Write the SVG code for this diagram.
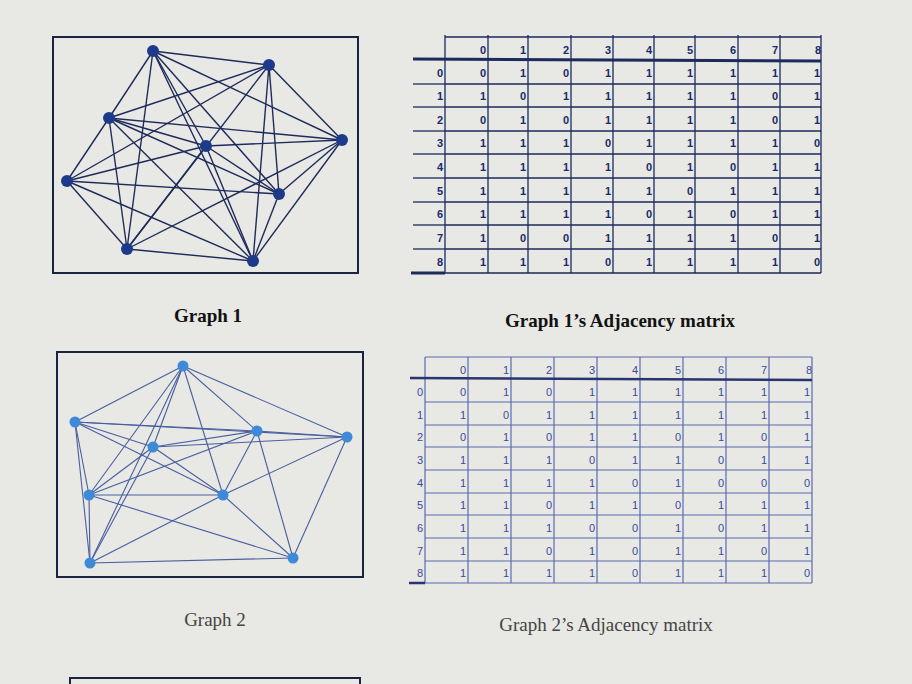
<svg xmlns="http://www.w3.org/2000/svg" width="912" height="684" viewBox="0 0 912 684">
<style>
.box{fill:none;stroke:#1a2340;stroke-width:2}
.e1{stroke:#1f2b5a;stroke-width:1.4}
.e2{stroke:#4a5ea0;stroke-width:1.1}
.n1{fill:#1d3a8a}
.n2{fill:#3f8ad8}
.cap{font-family:"Liberation Serif",serif;font-size:19px;fill:#222}
.m{font-family:"Liberation Sans Narrow","Liberation Sans",sans-serif;font-size:11px;font-weight:bold;fill:#1a2a6a;text-anchor:end}
.m2{font-family:"Liberation Sans Narrow","Liberation Sans",sans-serif;font-size:11px;fill:#3a4a9a;text-anchor:end}
.g{stroke:#1d2a5e;stroke-width:1.3}
.gt{stroke:#1d2a5e;stroke-width:3}
.h{stroke:#5a6ab0;stroke-width:1.2}
.ht{stroke:#2a3570;stroke-width:2.5}
</style>
<rect width="912" height="684" fill="#e8e8e4"/>
<g id="graph1">
<rect class="box" x="53" y="37" width="305" height="236" fill="#ecece8"/>
<g id="connectors1" class="e1">
<line x1="153" y1="51" x2="269" y2="65"/><line x1="153" y1="51" x2="109" y2="118"/><line x1="153" y1="51" x2="127" y2="249"/><line x1="153" y1="51" x2="206" y2="146"/><line x1="153" y1="51" x2="342" y2="140"/><line x1="153" y1="51" x2="279" y2="194"/><line x1="153" y1="51" x2="253" y2="261"/>
<line x1="269" y1="65" x2="109" y2="118"/><line x1="269" y1="65" x2="67" y2="181"/><line x1="269" y1="65" x2="127" y2="249"/><line x1="269" y1="65" x2="253" y2="261"/><line x1="269" y1="65" x2="279" y2="194"/><line x1="269" y1="65" x2="342" y2="140"/>
<line x1="109" y1="118" x2="206" y2="146"/><line x1="109" y1="118" x2="342" y2="140"/><line x1="109" y1="118" x2="67" y2="181"/><line x1="109" y1="118" x2="127" y2="249"/><line x1="109" y1="118" x2="253" y2="261"/><line x1="109" y1="118" x2="279" y2="194"/>
<line x1="206" y1="146" x2="342" y2="140"/><line x1="206" y1="146" x2="67" y2="181"/><line x1="206" y1="146" x2="127" y2="249"/><line x1="206" y1="146" x2="253" y2="261"/><line x1="206" y1="146" x2="279" y2="194"/>
<line x1="342" y1="140" x2="279" y2="194"/><line x1="342" y1="140" x2="127" y2="249"/><line x1="342" y1="140" x2="253" y2="261"/>
<line x1="67" y1="181" x2="279" y2="194"/><line x1="67" y1="181" x2="127" y2="249"/><line x1="67" y1="181" x2="253" y2="261"/>
<line x1="127" y1="249" x2="253" y2="261"/><line x1="253" y1="261" x2="279" y2="194"/>
</g>
<g id="nodes1" class="n1">
<circle cx="153" cy="51" r="6"/><circle cx="269" cy="65" r="6"/><circle cx="109" cy="118" r="6"/><circle cx="206" cy="146" r="6"/><circle cx="342" cy="140" r="6"/><circle cx="67" cy="181" r="6"/><circle cx="279" cy="194" r="6"/><circle cx="127" cy="249" r="6"/><circle cx="253" cy="261" r="6"/>
</g>
</g>
<g id="graph2">
<rect class="box" x="57" y="352" width="306" height="225" fill="#ecece8"/>
<g id="connectors2" class="e2">
<line x1="183" y1="366" x2="75" y2="422"/><line x1="183" y1="366" x2="347" y2="437"/><line x1="183" y1="366" x2="257" y2="431"/><line x1="183" y1="366" x2="223" y2="495"/><line x1="183" y1="366" x2="153" y2="447"/><line x1="183" y1="366" x2="89" y2="495"/><line x1="183" y1="366" x2="90" y2="563"/>
<line x1="75" y1="422" x2="257" y2="431"/><line x1="75" y1="422" x2="347" y2="437"/><line x1="75" y1="422" x2="153" y2="447"/><line x1="75" y1="422" x2="223" y2="495"/><line x1="75" y1="422" x2="89" y2="495"/><line x1="75" y1="422" x2="90" y2="563"/>
<line x1="257" y1="431" x2="347" y2="437"/><line x1="257" y1="431" x2="153" y2="447"/><line x1="257" y1="431" x2="89" y2="495"/><line x1="257" y1="431" x2="223" y2="495"/><line x1="257" y1="431" x2="293" y2="558"/>
<line x1="347" y1="437" x2="153" y2="447"/><line x1="347" y1="437" x2="223" y2="495"/><line x1="347" y1="437" x2="293" y2="558"/>
<line x1="153" y1="447" x2="89" y2="495"/><line x1="153" y1="447" x2="90" y2="563"/><line x1="153" y1="447" x2="223" y2="495"/>
<line x1="89" y1="495" x2="223" y2="495"/><line x1="89" y1="495" x2="293" y2="558"/><line x1="89" y1="495" x2="90" y2="563"/>
<line x1="223" y1="495" x2="90" y2="563"/><line x1="223" y1="495" x2="293" y2="558"/><line x1="90" y1="563" x2="293" y2="558"/>
</g>
<g id="nodes2" class="n2">
<circle cx="183" cy="366" r="5.5"/><circle cx="75" cy="422" r="5.5"/><circle cx="257" cy="431" r="5.5"/><circle cx="347" cy="437" r="5.5"/><circle cx="153" cy="447" r="5.5"/><circle cx="89" cy="495" r="5.5"/><circle cx="223" cy="495" r="5.5"/><circle cx="90" cy="563" r="5.5"/><circle cx="293" cy="558" r="5.5"/>
</g>
</g>
<g id="matrix1">
<g class="g">
<line x1="445" y1="37" x2="821" y2="37"/>
<line x1="445" y1="84" x2="821" y2="84"/><line x1="445" y1="107" x2="821" y2="107"/><line x1="445" y1="131" x2="821" y2="131"/><line x1="445" y1="154" x2="821" y2="154"/><line x1="445" y1="178" x2="821" y2="178"/><line x1="445" y1="202" x2="821" y2="202"/><line x1="445" y1="225" x2="821" y2="225"/><line x1="445" y1="249" x2="821" y2="249"/>
<line x1="445" y1="35" x2="445" y2="273"/><line x1="488" y1="35" x2="488" y2="273"/><line x1="528" y1="35" x2="528" y2="273"/><line x1="571" y1="35" x2="571" y2="273"/><line x1="613" y1="35" x2="613" y2="273"/><line x1="654" y1="35" x2="654" y2="273"/><line x1="695" y1="35" x2="695" y2="273"/><line x1="738" y1="35" x2="738" y2="273"/><line x1="780" y1="35" x2="780" y2="273"/><line x1="821" y1="35" x2="821" y2="273"/>
<line x1="413" y1="84" x2="445" y2="84"/><line x1="413" y1="107" x2="445" y2="107"/><line x1="413" y1="131" x2="445" y2="131"/><line x1="413" y1="154" x2="445" y2="154"/><line x1="413" y1="178" x2="445" y2="178"/><line x1="413" y1="202" x2="445" y2="202"/><line x1="413" y1="225" x2="445" y2="225"/><line x1="413" y1="249" x2="445" y2="249"/>
</g>
<line class="gt" x1="413" y1="59" x2="821" y2="61"/><line class="gt" x1="411" y1="273" x2="445" y2="273"/><line class="g" x1="445" y1="273" x2="821" y2="273"/>
<g class="m">
<text x="486" y="54">0</text><text x="526" y="54">1</text><text x="569" y="54">2</text><text x="611" y="54">3</text><text x="652" y="54">4</text><text x="693" y="54">5</text><text x="736" y="54">6</text><text x="778" y="54">7</text><text x="821" y="54">8</text>
<text x="443" y="77">0</text><text x="443" y="100">1</text><text x="443" y="124">2</text><text x="443" y="147">3</text><text x="443" y="171">4</text><text x="443" y="195">5</text><text x="443" y="218">6</text><text x="443" y="242">7</text><text x="443" y="266">8</text>
<text x="486" y="77">0</text><text x="526" y="77">1</text><text x="569" y="77">0</text><text x="611" y="77">1</text><text x="652" y="77">1</text><text x="693" y="77">1</text><text x="736" y="77">1</text><text x="778" y="77">1</text><text x="820" y="77">1</text>
<text x="486" y="100">1</text><text x="526" y="100">0</text><text x="569" y="100">1</text><text x="611" y="100">1</text><text x="652" y="100">1</text><text x="693" y="100">1</text><text x="736" y="100">1</text><text x="778" y="100">0</text><text x="820" y="100">1</text>
<text x="486" y="124">0</text><text x="526" y="124">1</text><text x="569" y="124">0</text><text x="611" y="124">1</text><text x="652" y="124">1</text><text x="693" y="124">1</text><text x="736" y="124">1</text><text x="778" y="124">0</text><text x="820" y="124">1</text>
<text x="486" y="147">1</text><text x="526" y="147">1</text><text x="569" y="147">1</text><text x="611" y="147">0</text><text x="652" y="147">1</text><text x="693" y="147">1</text><text x="736" y="147">1</text><text x="778" y="147">1</text><text x="820" y="147">0</text>
<text x="486" y="171">1</text><text x="526" y="171">1</text><text x="569" y="171">1</text><text x="611" y="171">1</text><text x="652" y="171">0</text><text x="693" y="171">1</text><text x="736" y="171">0</text><text x="778" y="171">1</text><text x="820" y="171">1</text>
<text x="486" y="195">1</text><text x="526" y="195">1</text><text x="569" y="195">1</text><text x="611" y="195">1</text><text x="652" y="195">1</text><text x="693" y="195">0</text><text x="736" y="195">1</text><text x="778" y="195">1</text><text x="820" y="195">1</text>
<text x="486" y="218">1</text><text x="526" y="218">1</text><text x="569" y="218">1</text><text x="611" y="218">1</text><text x="652" y="218">0</text><text x="693" y="218">1</text><text x="736" y="218">0</text><text x="778" y="218">1</text><text x="820" y="218">1</text>
<text x="486" y="242">1</text><text x="526" y="242">0</text><text x="569" y="242">0</text><text x="611" y="242">1</text><text x="652" y="242">1</text><text x="693" y="242">1</text><text x="736" y="242">1</text><text x="778" y="242">0</text><text x="820" y="242">1</text>
<text x="486" y="266">1</text><text x="526" y="266">1</text><text x="569" y="266">1</text><text x="611" y="266">0</text><text x="652" y="266">1</text><text x="693" y="266">1</text><text x="736" y="266">1</text><text x="778" y="266">1</text><text x="820" y="266">0</text>
</g>
</g>
<g id="matrix2">
<g class="h">
<line x1="425" y1="357" x2="812" y2="357"/>
<line x1="425" y1="402" x2="812" y2="402"/><line x1="425" y1="425" x2="812" y2="425"/><line x1="425" y1="447" x2="812" y2="447"/><line x1="425" y1="470" x2="812" y2="470"/><line x1="425" y1="493" x2="812" y2="493"/><line x1="425" y1="515" x2="812" y2="515"/><line x1="425" y1="538" x2="812" y2="538"/><line x1="425" y1="561" x2="812" y2="561"/><line x1="425" y1="583" x2="812" y2="583"/>
<line x1="425" y1="357" x2="425" y2="583"/><line x1="468" y1="357" x2="468" y2="583"/><line x1="511" y1="357" x2="511" y2="583"/><line x1="554" y1="357" x2="554" y2="583"/><line x1="597" y1="357" x2="597" y2="583"/><line x1="640" y1="357" x2="640" y2="583"/><line x1="683" y1="357" x2="683" y2="583"/><line x1="726" y1="357" x2="726" y2="583"/><line x1="769" y1="357" x2="769" y2="583"/><line x1="812" y1="357" x2="812" y2="583"/>
</g>
<line class="ht" x1="410" y1="378" x2="812" y2="380"/><line class="ht" x1="409" y1="583" x2="425" y2="583"/>
<g class="m2">
<text x="466" y="374">0</text><text x="509" y="374">1</text><text x="552" y="374">2</text><text x="595" y="374">3</text><text x="638" y="374">4</text><text x="681" y="374">5</text><text x="724" y="374">6</text><text x="767" y="374">7</text><text x="812" y="374">8</text>
<text x="423" y="396">0</text><text x="423" y="419">1</text><text x="423" y="441">2</text><text x="423" y="464">3</text><text x="423" y="487">4</text><text x="423" y="509">5</text><text x="423" y="532">6</text><text x="423" y="555">7</text><text x="423" y="577">8</text>
<text x="466" y="396">0</text><text x="509" y="396">1</text><text x="552" y="396">0</text><text x="595" y="396">1</text><text x="638" y="396">1</text><text x="681" y="396">1</text><text x="724" y="396">1</text><text x="767" y="396">1</text><text x="810" y="396">1</text>
<text x="466" y="419">1</text><text x="509" y="419">0</text><text x="552" y="419">1</text><text x="595" y="419">1</text><text x="638" y="419">1</text><text x="681" y="419">1</text><text x="724" y="419">1</text><text x="767" y="419">1</text><text x="810" y="419">1</text>
<text x="466" y="441">0</text><text x="509" y="441">1</text><text x="552" y="441">0</text><text x="595" y="441">1</text><text x="638" y="441">1</text><text x="681" y="441">0</text><text x="724" y="441">1</text><text x="767" y="441">0</text><text x="810" y="441">1</text>
<text x="466" y="464">1</text><text x="509" y="464">1</text><text x="552" y="464">1</text><text x="595" y="464">0</text><text x="638" y="464">1</text><text x="681" y="464">1</text><text x="724" y="464">0</text><text x="767" y="464">1</text><text x="810" y="464">1</text>
<text x="466" y="487">1</text><text x="509" y="487">1</text><text x="552" y="487">1</text><text x="595" y="487">1</text><text x="638" y="487">0</text><text x="681" y="487">1</text><text x="724" y="487">0</text><text x="767" y="487">0</text><text x="810" y="487">0</text>
<text x="466" y="509">1</text><text x="509" y="509">1</text><text x="552" y="509">0</text><text x="595" y="509">1</text><text x="638" y="509">1</text><text x="681" y="509">0</text><text x="724" y="509">1</text><text x="767" y="509">1</text><text x="810" y="509">1</text>
<text x="466" y="532">1</text><text x="509" y="532">1</text><text x="552" y="532">1</text><text x="595" y="532">0</text><text x="638" y="532">0</text><text x="681" y="532">1</text><text x="724" y="532">0</text><text x="767" y="532">1</text><text x="810" y="532">1</text>
<text x="466" y="555">1</text><text x="509" y="555">1</text><text x="552" y="555">0</text><text x="595" y="555">1</text><text x="638" y="555">0</text><text x="681" y="555">1</text><text x="724" y="555">1</text><text x="767" y="555">0</text><text x="810" y="555">1</text>
<text x="466" y="577">1</text><text x="509" y="577">1</text><text x="552" y="577">1</text><text x="595" y="577">1</text><text x="638" y="577">0</text><text x="681" y="577">1</text><text x="724" y="577">1</text><text x="767" y="577">1</text><text x="810" y="577">0</text>
</g>
</g>
<g id="captions" class="cap">
<text x="208" y="322" text-anchor="middle" font-weight="bold" fill="#111">Graph 1</text>
<text x="620" y="327" text-anchor="middle" font-weight="bold" fill="#111">Graph 1’s Adjacency matrix</text>
<text x="215" y="626" text-anchor="middle" fill="#444">Graph 2</text>
<text x="606" y="631" text-anchor="middle" fill="#444">Graph 2’s Adjacency matrix</text>
</g>
<rect class="box" x="70" y="678" width="290" height="20" fill="none"/>
</svg>
